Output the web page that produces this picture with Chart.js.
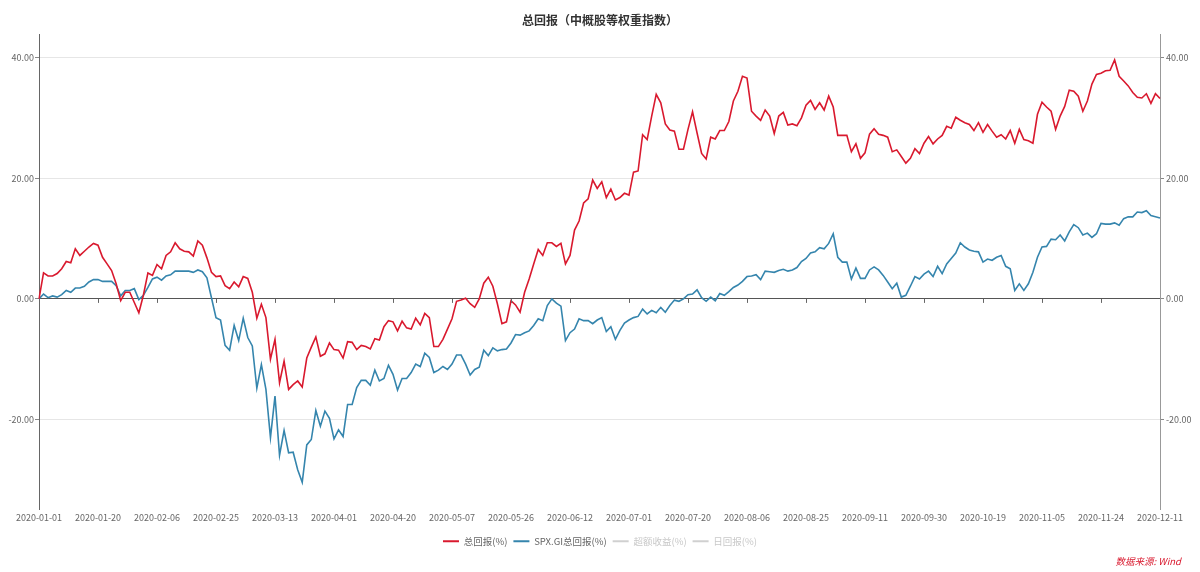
<!DOCTYPE html>
<html>
<head>
<meta charset="utf-8">
<script src="https://cdn.jsdelivr.net/npm/chart.js@4.4.1/dist/chart.umd.min.js"></script>
<style>
  body { margin: 0; background: #fff; }
</style>
</head>
<body>
<canvas id="retChart" width="1200" height="572"></canvas>
<script>
// chart data
const titleText = '总回报（中概股等权重指数）';
const seriesNames = ['总回报(%)', 'SPX.GI总回报(%)', '超额收益(%)', '日回报(%)'];
const sourceText = '数据来源: Wind';

const totalReturn = [
  0, 4.3, 3.8, 3.8, 4.2, 5.0, 6.2, 6.0, 8.3, 7.2, 7.9, 8.6, 9.2, 8.9, 6.9, 5.8, 4.7, 2.5, -0.3, 1.1,
  1.1, -0.6, -2.3, 0.6, 4.3, 3.9, 5.7, 5.0, 7.2, 7.8, 9.3, 8.3, 7.9, 7.8, 7.1, 9.6, 8.9, 6.8, 4.4, 3.7,
  3.8, 2.2, 1.7, 2.8, 2.0, 3.7, 3.4, 1.1, -3.2, -0.9, -3.1, -10.0, -6.7, -13.9, -10.3, -15.0, -14.2, -13.6, -14.6, -9.8,
  -8.0, -6.3, -9.5, -9.1, -7.3, -8.4, -8.5, -9.8, -7.1, -7.2, -8.4, -7.7, -7.9, -8.3, -6.6, -6.8, -4.6, -3.6, -3.8, -5.3,
  -3.7, -4.8, -5.0, -3.2, -4.3, -2.4, -3.1, -7.9, -7.9, -6.7, -5.0, -3.3, -0.4, -0.2, 0.1, -0.8, -1.4, 0, 2.6, 3.6,
  2.1, -0.8, -4.1, -3.8, -0.3, -1.0, -2.2, 1.1, 3.3, 5.8, 8.2, 7.2, 9.3, 9.3, 8.7, 9.2, 5.8, 7.2, 11.4, 12.9,
  15.9, 16.6, 19.7, 18.3, 19.4, 16.8, 18.2, 16.4, 16.8, 17.5, 17.2, 21.0, 21.2, 27.2, 26.4, 30.3, 33.9, 32.5, 29.0, 28.0,
  27.8, 24.8, 24.8, 28.1, 31.0, 27.5, 24.1, 23.2, 26.8, 26.5, 27.9, 27.9, 29.4, 32.8, 34.4, 36.9, 36.6, 31.1, 30.3, 29.6,
  31.3, 30.3, 27.4, 30.3, 30.9, 28.8, 29.0, 28.7, 30.0, 32.1, 32.9, 31.4, 32.5, 31.3, 33.6, 31.8, 27.1, 27.1, 27.1, 24.4,
  25.7, 23.3, 24.2, 27.3, 28.2, 27.3, 27.1, 26.8, 24.4, 24.7, 23.6, 22.5, 23.3, 24.9, 24.1, 25.8, 26.9, 25.7, 26.5, 27.1,
  28.6, 28.3, 30.1, 29.6, 29.2, 28.9, 27.9, 29.2, 27.6, 28.9, 27.8, 26.8, 27.2, 26.5, 27.9, 25.8, 28.1, 26.4, 26.2, 25.8,
  30.6, 32.6, 31.8, 31.1, 28.1, 30.3, 31.9, 34.6, 34.4, 33.6, 31.1, 32.8, 35.6, 37.2, 37.4, 37.8, 37.9, 39.6, 36.9, 36.1,
  35.3, 34.2, 33.4, 33.3, 34.0, 32.4, 34.0, 33.2
];

const spxReturn = [
  0, 0.8, 0.2, 0.5, 0.3, 0.7, 1.4, 1.1, 1.8, 1.8, 2.1, 2.8, 3.2, 3.2, 2.9, 2.9, 2.9, 2.2, 0.5, 1.4,
  1.4, 1.7, -0.1, 0.6, 1.9, 3.3, 3.6, 3.1, 3.8, 4.0, 4.6, 4.6, 4.6, 4.6, 4.4, 4.8, 4.5, 3.5, 0.2, -3.1,
  -3.5, -7.7, -8.5, -4.4, -6.9, -3.2, -6.4, -7.8, -14.8, -10.9, -15.0, -23.0, -16.1, -25.9, -21.8, -25.5, -25.4, -28.3, -30.4, -24.2,
  -23.3, -18.5, -21.1, -18.6, -19.8, -23.2, -21.7, -22.8, -17.5, -17.5, -14.7, -13.5, -13.5, -14.3, -11.8, -13.6, -13.2, -11.0, -12.5, -15.1,
  -13.2, -13.2, -12.2, -10.8, -11.2, -9.0, -9.7, -12.2, -11.8, -11.2, -11.7, -10.8, -9.3, -9.3, -10.8, -12.6, -11.7, -11.3, -8.5, -9.4,
  -8.1, -8.6, -8.4, -8.3, -7.3, -5.9, -6.0, -5.6, -5.3, -4.4, -3.3, -3.6, -1.1, 0, -0.7, -1.2, -6.9, -5.6, -5.0, -3.3,
  -3.6, -3.6, -4.1, -3.5, -3.1, -5.4, -4.6, -6.7, -5.2, -4.0, -3.5, -3.1, -2.9, -1.7, -2.5, -1.9, -2.3, -1.4, -2.2, -1.1,
  -0.2, -0.4, 0, 0.7, 0.8, 1.5, 0.2, -0.4, 0.3, -0.3, 0.9, 0.6, 1.2, 1.9, 2.3, 2.9, 3.7, 3.8, 4.0, 3.2,
  4.6, 4.5, 4.4, 4.7, 4.9, 4.6, 4.8, 5.2, 6.2, 6.7, 7.6, 7.8, 8.5, 8.3, 9.2, 10.8, 6.9, 6.1, 6.1, 3.3,
  5.1, 3.4, 3.4, 4.8, 5.3, 4.8, 3.9, 2.8, 1.7, 2.6, 0.3, 0.6, 2.1, 3.7, 3.3, 4.1, 4.6, 3.7, 5.4, 4.2,
  5.8, 6.7, 7.6, 9.3, 8.6, 8.1, 7.9, 7.8, 6.1, 6.6, 6.4, 6.9, 7.2, 5.4, 5.0, 1.4, 2.5, 1.4, 2.5, 4.4,
  6.9, 8.6, 8.7, 9.9, 9.8, 10.6, 9.6, 11.1, 12.3, 11.8, 10.6, 10.9, 10.2, 10.8, 12.5, 12.4, 12.4, 12.6, 12.2, 13.3,
  13.6, 13.6, 14.4, 14.3, 14.6, 13.8, 13.6, 13.4
];

const yTicks = [-20, 0, 20, 40];
const yMin = -34.9;
const yMax = 43.9;
const labelEvery = 13;

// trading days (weekdays) from 2020-01-01, one per value
const dates = [];
const day = new Date(Date.UTC(2020, 0, 1));
while (dates.length < totalReturn.length) {
    const wd = day.getUTCDay();
    if (wd !== 0 && wd !== 6) dates.push(day.toISOString().slice(0, 10));
    day.setUTCDate(day.getUTCDate() + 1);
}

const seriesColors = ['#d9192e', '#3585ad', '#d0d0d0', '#d0d0d0'];
const fontFamily = '"Noto Sans CJK SC", "Noto Sans", sans-serif';

// small tick marks under the zero line + source note
const extrasPlugin = {
    id: 'extras',
    afterDraw(chart) {
        const ctx = chart.ctx;
        const xs = chart.scales.x;
        const y0 = chart.scales.y.getPixelForValue(0);
        ctx.save();
        ctx.strokeStyle = '#666';
        ctx.lineWidth = 1;
        ctx.beginPath();
        for (let i = labelEvery; i < dates.length - 1; i += labelEvery) {
            const px = Math.round(xs.getPixelForValue(i)) + 0.5;
            ctx.moveTo(px, y0);
            ctx.lineTo(px, y0 + 4);
        }
        ctx.stroke();
        ctx.font = 'italic 9.5px ' + fontFamily;
        ctx.fillStyle = '#d9192e';
        ctx.textAlign = 'right';
        ctx.textBaseline = 'middle';
        ctx.fillText(sourceText, 1181, 561);
        ctx.restore();
    }
};

function yAxis(position, width) {
    return {
        position: position,
        min: yMin,
        max: yMax,
        afterBuildTicks: function(scale) {
            scale.ticks = yTicks.map(v => ({ value: v }));
        },
        afterFit: function(scale) {
            scale.width = width;
        },
        border: { display: true, color: position === 'left' ? '#666' : '#999', width: 1 },
        grid: {
            drawOnChartArea: position === 'left',
            drawTicks: true,
            tickLength: 4,
            color: ctx => (ctx.tick && ctx.tick.value === 0 ? '#555' : '#e6e6e6'),
            tickColor: '#888'
        },
        ticks: {
            padding: position === 'left' ? 1 : 2,
            color: '#666',
            font: { family: fontFamily, size: 9 },
            callback: v => Number(v).toFixed(2)
        }
    };
}

const ctx = document.getElementById('retChart').getContext('2d');
const retChart = new Chart(ctx, {
    type: 'line',
    data: {
        labels: dates,
        datasets: [
            { label: seriesNames[0], data: totalReturn, borderColor: seriesColors[0], yAxisID: 'y' },
            { label: seriesNames[1], data: spxReturn, borderColor: seriesColors[1], yAxisID: 'y' },
            { label: seriesNames[2], data: [], borderColor: seriesColors[2], yAxisID: 'y' },
            { label: seriesNames[3], data: [], borderColor: seriesColors[3], yAxisID: 'y' }
        ]
    },
    options: {
        responsive: false,
        animation: false,
        layout: { padding: { left: 0, right: 0, top: 0, bottom: 16 } },
        elements: {
            line: { borderWidth: 1.6, tension: 0, fill: false },
            point: { radius: 0 }
        },
        scales: {
            x: {
                type: 'category',
                afterFit: function(scale) { scale.height = 21; },
                border: { display: false },
                grid: { display: false, drawTicks: false },
                ticks: {
                    autoSkip: false,
                    maxRotation: 0,
                    minRotation: 0,
                    padding: 3,
                    color: '#666',
                    font: { family: fontFamily, size: 9 },
                    callback: function(val, idx) {
                        return idx % labelEvery === 0 ? this.getLabelForValue(val) : '';
                    }
                }
            },
            y: yAxis('left', 39),
            y2: yAxis('right', 40)
        },
        plugins: {
            title: {
                display: true,
                text: titleText,
                color: '#333',
                font: { family: fontFamily, size: 12, weight: 'bold' },
                padding: { top: 13, bottom: 6.6 }
            },
            legend: {
                position: 'bottom',
                labels: {
                    boxWidth: 16,
                    boxHeight: 2,
                    padding: 6,
                    font: { family: fontFamily, size: 9.5 },
                    generateLabels: function(chart) {
                        return chart.data.datasets.map((ds, i) => ({
                            text: ds.label,
                            fillStyle: ds.borderColor,
                            strokeStyle: ds.borderColor,
                            lineWidth: 0,
                            fontColor: i < 2 ? '#666' : '#c8c8c8',
                            hidden: false,
                            datasetIndex: i
                        }));
                    }
                }
            },
            tooltip: { enabled: false }
        }
    },
    plugins: [extrasPlugin]
});
</script>
</body>
</html>
